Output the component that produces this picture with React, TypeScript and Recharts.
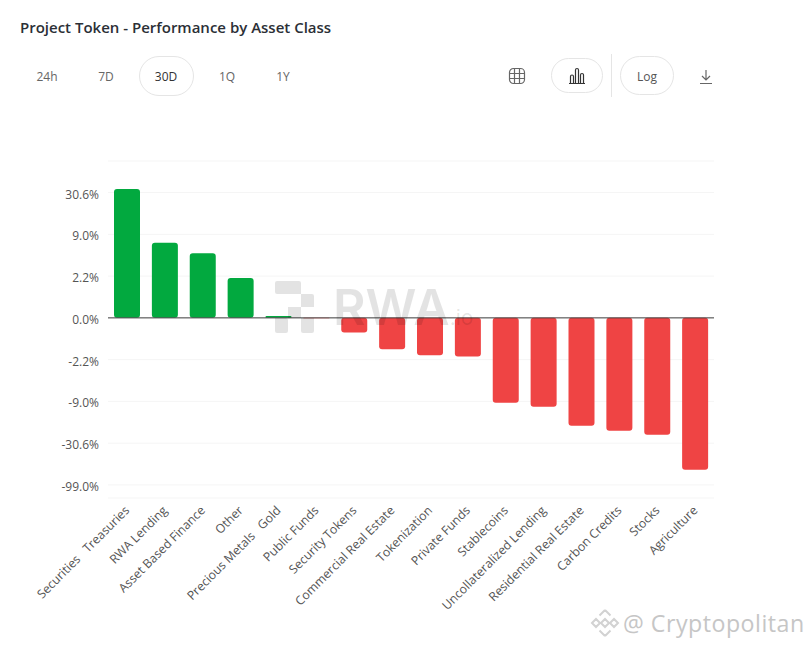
import React from "react";
import { BarChart, Bar, Cell, XAxis, YAxis, CartesianGrid, ReferenceLine } from "recharts";

const categories = [
  "Securities \u00a0 Treasuries", "RWA Lending", "Asset Based Finance", "Other",
  "Precious Metals \u00a0 Gold", "Public Funds", "Security Tokens", "Commercial Real Estate",
  "Tokenization", "Private Funds", "Stablecoins", "Uncollateralized Lending",
  "Residential Real Estate", "Carbon Credits", "Stocks", "Agriculture",
];
const changes = [33.9, 6.95, 4.95, 2.0, 0.056, -0.012, -0.5, -1.37, -1.8, -1.91, -9.4, -10.6, -18.6, -21.5, -24.1, -64.8];
const tickLabels: Record<string, string> = {
  "3": "30.6%", "2": "9.0%", "1": "2.2%", "0": "0.0%",
  "-1": "-2.2%", "-2": "-9.0%", "-3": "-30.6%", "-4": "-99.0%",
};
const tickPositions = [3.756, 3, 2, 1, 0, -1, -2, -3, -4, -4.313];
const periods = [["24h", 47], ["7D", 106], ["30D", 166], ["1Q", 227], ["1Y", 283]] as const;

const GREEN = "#02a93f";
const RED = "#ef4444";
const FONT = "'Open Sans', 'Noto Sans', sans-serif";

const symlog = (v: number) => Math.sign(v) * 2 * Math.log10(1 + Math.abs(v));
const data = categories.map((name, i) => ({ name, change: changes[i], pos: symlog(changes[i]) }));

function CategoryTick({ x, y, payload }: any) {
  const px = x;
  const py = y + 2;
  return (
    <text x={px} y={py} transform={`rotate(-45 ${px} ${py})`} textAnchor="end" fontSize={12.25} fill="#555" fontFamily={FONT} dominantBaseline="central">
      {payload.value}
    </text>
  );
}

function ValueTick({ x, y, payload }: any) {
  return (
    <text x={x - 2} y={y + 1.5} textAnchor="end" fontSize={12} fill="#555" fontFamily={FONT} dominantBaseline="central">
      {tickLabels[String(payload.value)] ?? ""}
    </text>
  );
}

const pill = (left: number, top: number, width: number, height: number): React.CSSProperties => ({
  position: "absolute", left, top, width, height, boxSizing: "border-box",
  border: "1px solid #e5e5e5", borderRadius: 20,
});
const label = (cx: number, color: string): React.CSSProperties => ({
  position: "absolute", left: cx - 25, width: 50, top: 69, height: 16, lineHeight: "16px",
  textAlign: "center", fontSize: 12, color,
});

export default function App() {
  return (
    <div style={{ position: "fixed", left: 0, top: 0, width: 812, height: 648, background: "#fff", fontFamily: FONT, overflow: "hidden" }}>
      <div style={{ position: "absolute", left: 20, top: 17, fontSize: 15, fontWeight: 600, color: "#2b2f36", lineHeight: "20px", whiteSpace: "nowrap" }}>
        Project Token - Performance by Asset Class
      </div>
      <div style={pill(139, 56, 55, 40)} />
      {periods.map(([t, cx]) => (
        <div key={t} style={label(cx, t === "30D" ? "#333" : "#666")}>{t}</div>
      ))}
      <svg style={{ position: "absolute", left: 508, top: 67 }} width={18} height={18} viewBox="0 0 18 18" fill="none" stroke="#666" strokeWidth={1.2}>
        <rect x={1.5} y={1.5} width={15} height={15} rx={4} />
        <path d="M6.5 1.5v15M11.5 1.5v15M1.5 6.5h15M1.5 11.5h15" />
      </svg>
      <div style={pill(551, 58, 52, 35)} />
      <svg style={{ position: "absolute", left: 568, top: 67 }} width={18} height={18} viewBox="0 0 18 18" fill="none" stroke="#333" strokeWidth={1.2}>
        <path d="M1 16.5h16M2.5 16V9.5a1 1 0 0 1 3 0V16M7.5 16V3a1.2 1.2 0 0 1 3 0V16M12.5 16V8a1 1 0 0 1 3 0V16" />
      </svg>
      <div style={{ position: "absolute", left: 611, top: 54, width: 1, height: 43, background: "#e5e5e5" }} />
      <div style={pill(620, 56, 54, 39)} />
      <div style={label(647, "#555")}>Log</div>
      <svg style={{ position: "absolute", left: 698, top: 69 }} width={16} height={16} viewBox="0 0 16 16" fill="none" stroke="#666" strokeWidth={1.2}>
        <path d="M8 1v9.5M4 7l4 4 4-4M2 14.5h12" />
      </svg>

      <div style={{ position: "absolute", left: 0, top: 0 }}>
        <BarChart width={812} height={648} data={data} margin={{ top: 161, right: 98, bottom: 0, left: 48 }} barSize={26}>
          <CartesianGrid vertical={false} stroke="#f5f5f5" />
          <XAxis dataKey="name" interval={0} height={150} axisLine={false} tickLine={false} tick={<CategoryTick />} />
          <YAxis
            type="number"
            width={60}
            domain={[-4.313, 3.756]}
            ticks={tickPositions}
            interval={0}
            axisLine={false}
            tickLine={false}
            tickMargin={1}
            tick={<ValueTick />}
          />
          <Bar dataKey="pos" radius={3} isAnimationActive={false}>
            {data.map((d) => (
              <Cell key={d.name} fill={d.change >= 0 ? GREEN : RED} />
            ))}
          </Bar>
          <ReferenceLine y={0} stroke="#3f3f3f" strokeWidth={1} />
        </BarChart>
      </div>

      <svg style={{ position: "absolute", left: 275, top: 281, pointerEvents: "none" }} width={40} height={52} viewBox="0 0 40 52" fill="rgba(0,0,0,0.11)">
        <path d="M2 0h22a2 2 0 0 1 2 2v11H2a2 2 0 0 1-2-2V2a2 2 0 0 1 2-2z" />
        <path d="M26 13h11a2 2 0 0 1 2 2v11H26z" />
        <path d="M13 26h13v11H13z" />
        <path d="M0 37h11a2 2 0 0 1 2 2v11a2 2 0 0 1-2 2H2a2 2 0 0 1-2-2z" />
        <path d="M26 37h13v13a2 2 0 0 1-2 2H28a2 2 0 0 1-2-2z" />
      </svg>
      <div style={{ position: "absolute", left: 333, top: 278, fontSize: 50, lineHeight: "58px", fontWeight: 600, fontFamily: "Inter, sans-serif", color: "rgba(0,0,0,0.11)", whiteSpace: "nowrap", pointerEvents: "none" }}>
        RWA<span style={{ fontSize: 21, fontWeight: 400 }}>.io</span>
      </div>

      <svg style={{ position: "absolute", left: 590, top: 608 }} width={30} height={30} viewBox="0 0 30 30" fill="none" stroke="#d2d2d2" strokeWidth={2}>
        <path d="M15 2l5.5 5.5M15 2L9.5 7.5M2 15l4-4 4 4-4 4zM20 15l4-4 4 4-4 4zM11 15l4-4 4 4-4 4zM15 28l5.5-5.5M15 28l-5.5-5.5" />
      </svg>
      <div style={{ position: "absolute", left: 623, top: 607, fontSize: 23.2, lineHeight: "32px", letterSpacing: 0.5, color: "#c6c6c6", whiteSpace: "nowrap" }}>
        @ Cryptopolitan
      </div>
    </div>
  );
}
